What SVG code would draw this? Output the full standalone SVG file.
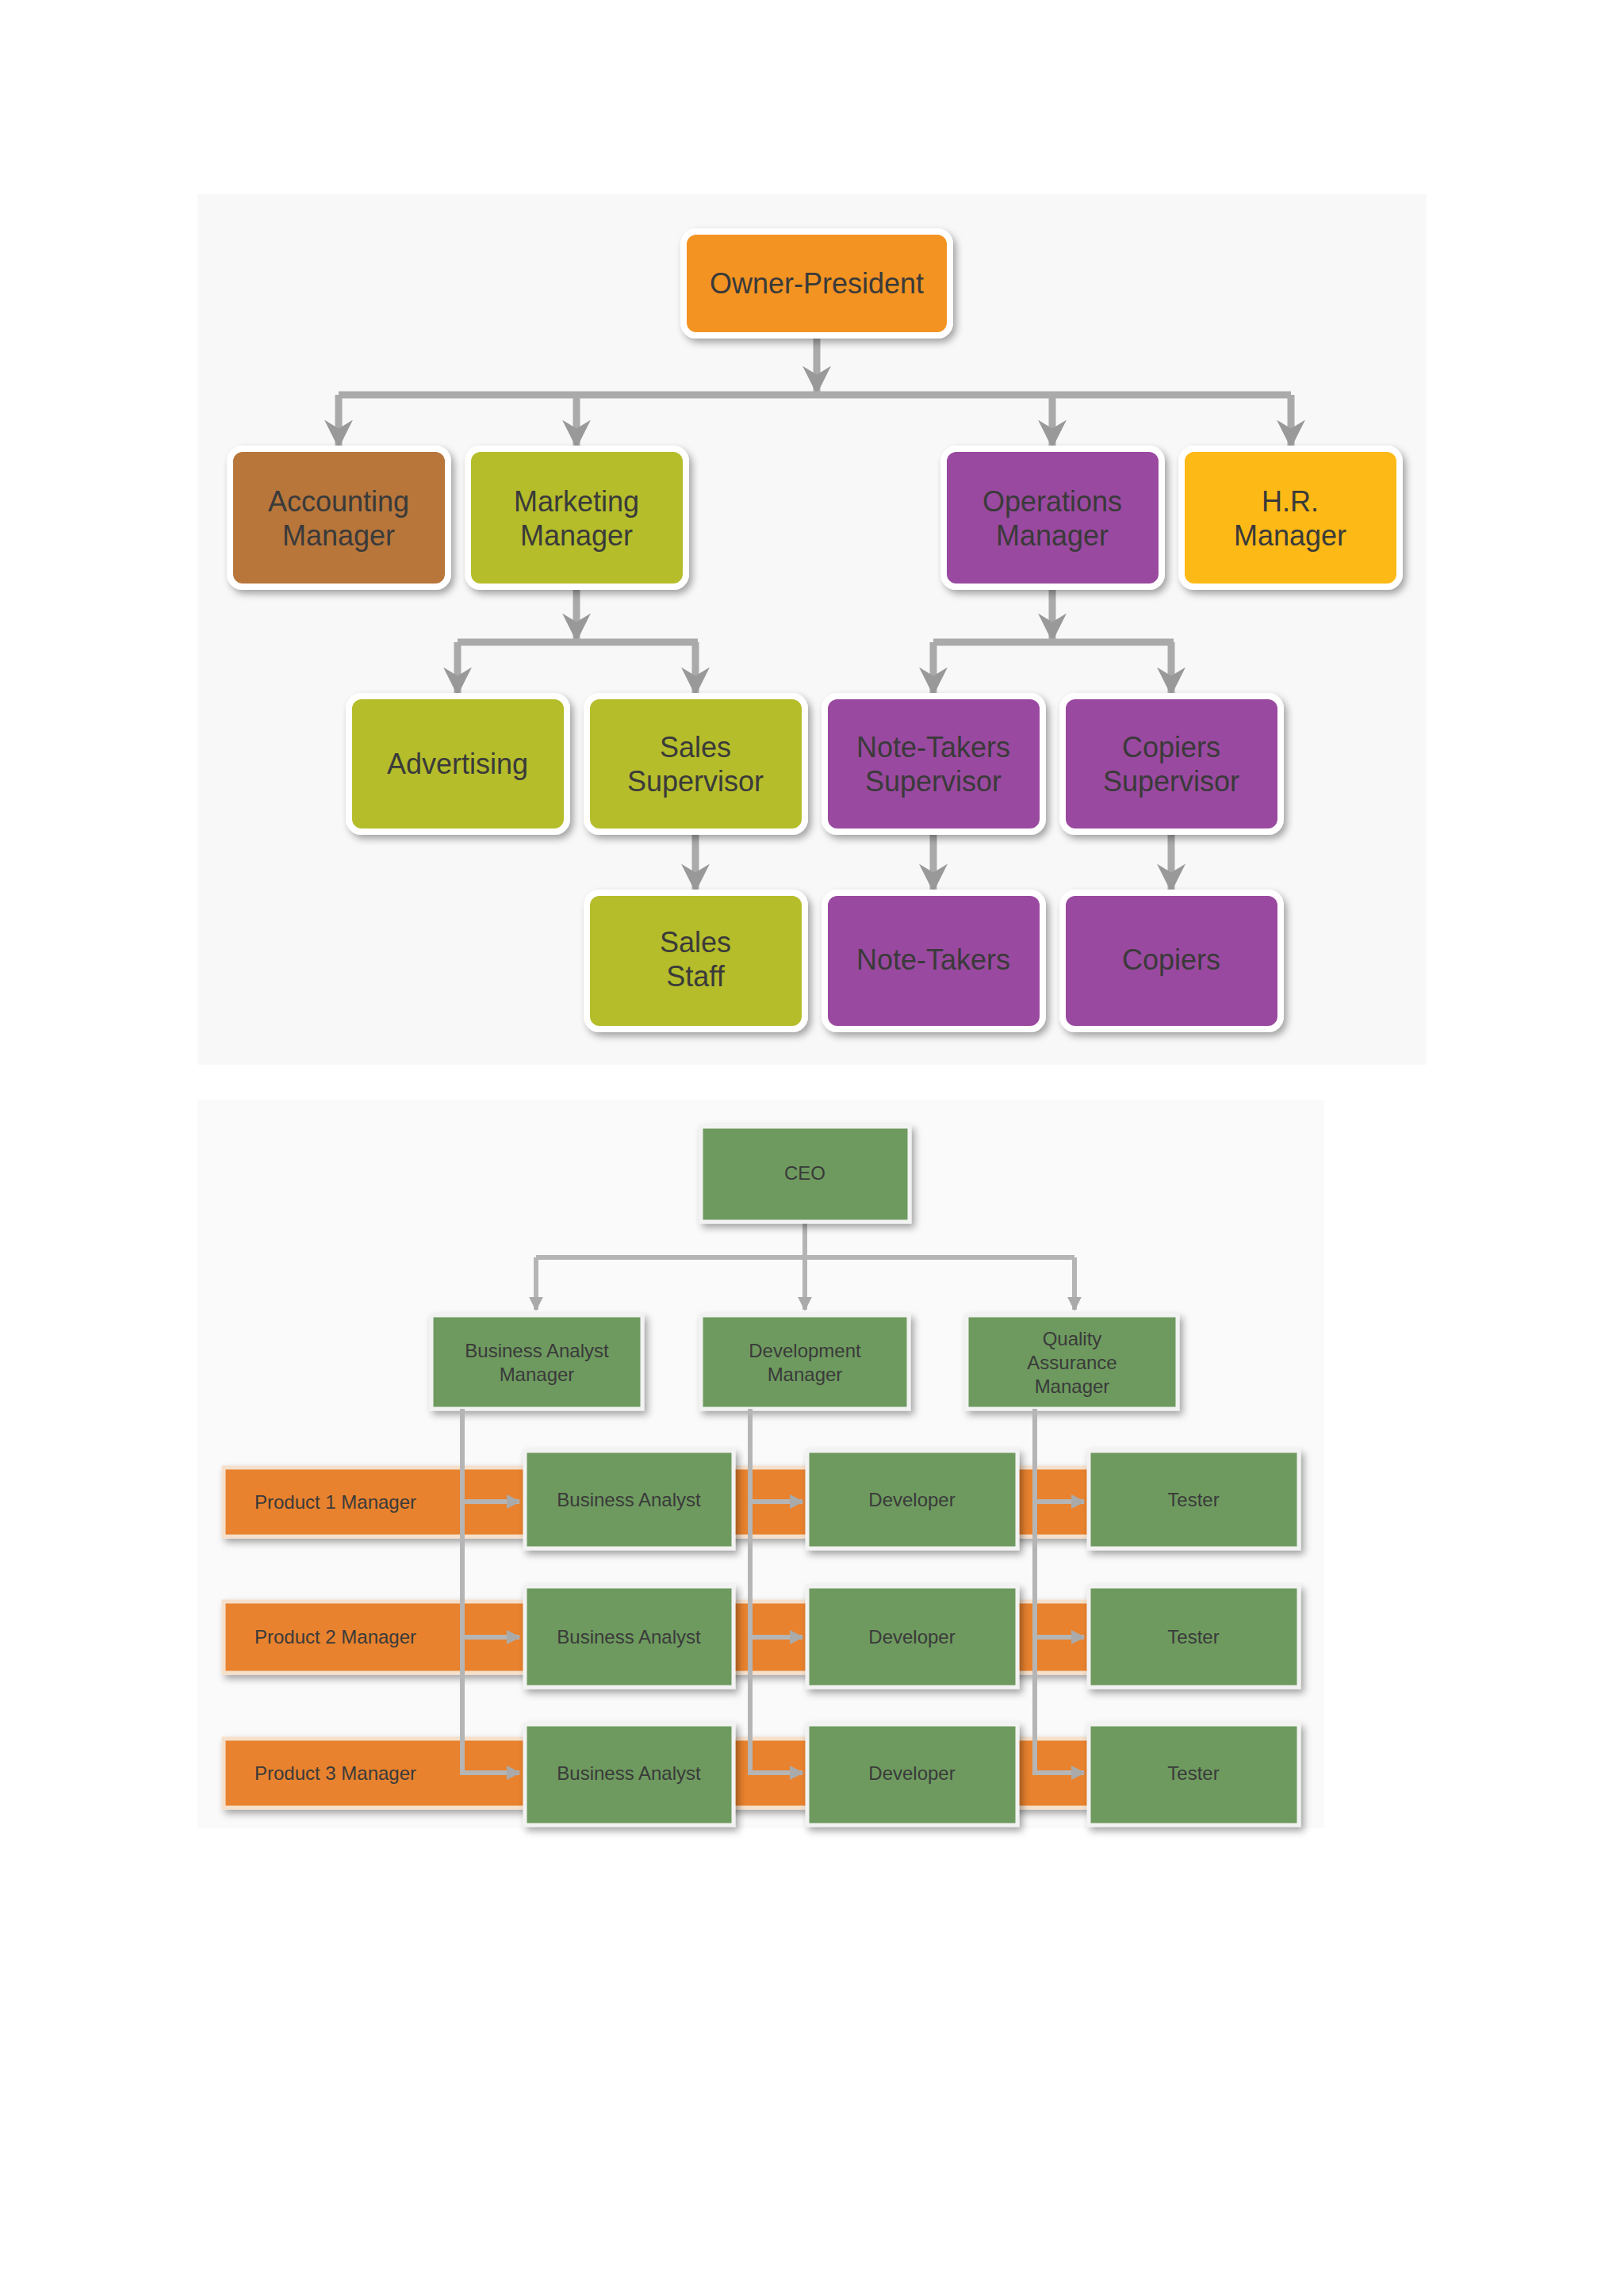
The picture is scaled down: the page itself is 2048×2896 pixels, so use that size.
<svg xmlns="http://www.w3.org/2000/svg" width="2048" height="2896" viewBox="0 0 2048 2896">
<defs>
<filter id="sh" x="-10%" y="-10%" width="130%" height="130%"><feDropShadow dx="4" dy="5" stdDeviation="5" flood-color="#000" flood-opacity="0.35"/></filter>
<marker id="ah" viewBox="0 0 10 10" refX="9" refY="5" markerWidth="4" markerHeight="4" orient="auto"><path d="M0,0 L10,5 L0,10 L3,5 Z" fill="#999"/></marker>
<marker id="sa" viewBox="0 0 10 10" refX="9" refY="5" markerWidth="3" markerHeight="3" orient="auto"><path d="M0,0 L10,5 L0,10 Z" fill="#aaa"/></marker>
</defs>
<style>
.n rect{stroke:#fff;stroke-width:8;filter:url(#sh)}
.t{font-family:"Liberation Sans Narrow","Liberation Sans",Arial,sans-serif;font-size:36px;fill:#3a3a3a;text-anchor:middle}
.g rect{fill:#6e9a5e;stroke:#f2f2f2;stroke-width:5;filter:url(#sh)}
.s{font-family:"Liberation Sans",Arial,sans-serif;font-size:24px;fill:#3a3a3a;text-anchor:middle}
.c{fill:none;stroke:#aaa;stroke-width:9}
.c2{fill:none;stroke:#b5b5b5;stroke-width:6}
.ob rect{fill:#e8822e;stroke:#f5e0cc;stroke-width:5;filter:url(#sh)}
</style>
<rect width="2048" height="2896" fill="#fff"/>
<rect x="249" y="245" width="1550" height="1098" fill="#f8f8f8"/>
<rect x="249" y="1387" width="1421" height="919" fill="#fafafa"/>
<g id="connectors">
<path class="c" d="M1030,423 V494" marker-end="url(#ah)"/>
<path class="c" d="M427,498 H1628"/>
<path class="c" d="M427,498 V562" marker-end="url(#ah)"/>
<path class="c" d="M727,498 V562" marker-end="url(#ah)"/>
<path class="c" d="M1327,498 V562" marker-end="url(#ah)"/>
<path class="c" d="M1628,498 V562" marker-end="url(#ah)"/>
<path class="c" d="M727,740 V806" marker-end="url(#ah)"/>
<path class="c" d="M577,810 H880"/>
<path class="c" d="M577,810 V874" marker-end="url(#ah)"/>
<path class="c" d="M877,810 V874" marker-end="url(#ah)"/>
<path class="c" d="M1327,740 V806" marker-end="url(#ah)"/>
<path class="c" d="M1177,810 H1480"/>
<path class="c" d="M1177,810 V874" marker-end="url(#ah)"/>
<path class="c" d="M1477,810 V874" marker-end="url(#ah)"/>
<path class="c" d="M877,1049 V1122" marker-end="url(#ah)"/>
<path class="c" d="M1177,1049 V1122" marker-end="url(#ah)"/>
<path class="c" d="M1477,1049 V1122" marker-end="url(#ah)"/>
<path class="c2" d="M1015,1541 V1586 M676,1586 H1355"/>
<path class="c2" d="M676,1586 V1652" marker-end="url(#sa)"/>
<path class="c2" d="M1015,1586 V1652" marker-end="url(#sa)"/>
<path class="c2" d="M1355,1586 V1652" marker-end="url(#sa)"/>
</g>
<g id="owner" class="n"><rect x="862" y="292" width="336" height="131" rx="16" fill="#f39320"/><text class="t" x="1030" y="370">Owner-President</text></g>
<g id="accounting" class="n"><rect x="290" y="566" width="275" height="174" rx="16" fill="#b8763a"/><text class="t" x="427" y="645">Accounting</text><text class="t" x="427" y="688">Manager</text></g>
<g id="marketing" class="n"><rect x="590" y="566" width="275" height="174" rx="16" fill="#b5bd2a"/><text class="t" x="727" y="645">Marketing</text><text class="t" x="727" y="688">Manager</text></g>
<g id="operations" class="n"><rect x="1190" y="566" width="275" height="174" rx="16" fill="#9a4aa0"/><text class="t" x="1327" y="645" fill="#555">Operations</text><text class="t" x="1327" y="688">Manager</text></g>
<g id="hr" class="n"><rect x="1490" y="566" width="275" height="174" rx="16" fill="#fdb913"/><text class="t" x="1627" y="645">H.R.</text><text class="t" x="1627" y="688">Manager</text></g>
<g id="advertising" class="n"><rect x="440" y="878" width="275" height="171" rx="16" fill="#b5bd2a"/><text class="t" x="577" y="976">Advertising</text></g>
<g id="salessup" class="n"><rect x="740" y="878" width="275" height="171" rx="16" fill="#b5bd2a"/><text class="t" x="877" y="955">Sales</text><text class="t" x="877" y="998">Supervisor</text></g>
<g id="notesup" class="n"><rect x="1040" y="878" width="275" height="171" rx="16" fill="#9a4aa0"/><text class="t" x="1177" y="955">Note-Takers</text><text class="t" x="1177" y="998">Supervisor</text></g>
<g id="copsup" class="n"><rect x="1340" y="878" width="275" height="171" rx="16" fill="#9a4aa0"/><text class="t" x="1477" y="955">Copiers</text><text class="t" x="1477" y="998">Supervisor</text></g>
<g id="salesstaff" class="n"><rect x="740" y="1126" width="275" height="172" rx="16" fill="#b5bd2a"/><text class="t" x="877" y="1201">Sales</text><text class="t" x="877" y="1244">Staff</text></g>
<g id="notetakers" class="n"><rect x="1040" y="1126" width="275" height="172" rx="16" fill="#9a4aa0"/><text class="t" x="1177" y="1223">Note-Takers</text></g>
<g id="copiers" class="n"><rect x="1340" y="1126" width="275" height="172" rx="16" fill="#9a4aa0"/><text class="t" x="1477" y="1223">Copiers</text></g>
<g id="ceo" class="g"><rect x="884" y="1421" width="263" height="120"/><text class="s" x="1015" y="1488">CEO</text></g>
<g id="bam" class="g"><rect x="544" y="1659" width="266" height="118"/><text class="s" x="677" y="1712">Business Analyst</text><text class="s" x="677" y="1742">Manager</text></g>
<g id="devm" class="g"><rect x="884" y="1659" width="262" height="118"/><text class="s" x="1015" y="1712">Development</text><text class="s" x="1015" y="1742">Manager</text></g>
<g id="qam" class="g"><rect x="1219" y="1659" width="266" height="118"/><text class="s" x="1352" y="1697">Quality</text><text class="s" x="1352" y="1727">Assurance</text><text class="s" x="1352" y="1757">Manager</text></g>
<g id="p1" class="ob"><rect x="282" y="1851" width="1100" height="87"/><text class="s" x="423" y="1903">Product 1 Manager</text></g>
<g id="p2" class="ob"><rect x="282" y="2020" width="1100" height="90"/><text class="s" x="423" y="2073">Product 2 Manager</text></g>
<g id="p3" class="ob"><rect x="282" y="2193" width="1100" height="87"/><text class="s" x="423" y="2245">Product 3 Manager</text></g>
<g id="connectors2">
<path class="c2" d="M583,1777 V2236 H655" marker-end="url(#sa)"/>
<path class="c2" d="M946,1777 V2236 H1012" marker-end="url(#sa)"/>
<path class="c2" d="M1305,1777 V2236 H1367" marker-end="url(#sa)"/>
<path class="c2" d="M583,1894 H655" marker-end="url(#sa)"/>
<path class="c2" d="M583,2065 H655" marker-end="url(#sa)"/>
<path class="c2" d="M946,1894 H1012" marker-end="url(#sa)"/>
<path class="c2" d="M946,2065 H1012" marker-end="url(#sa)"/>
<path class="c2" d="M1305,1894 H1367" marker-end="url(#sa)"/>
<path class="c2" d="M1305,2065 H1367" marker-end="url(#sa)"/>
</g>
<g id="ba1" class="g"><rect x="662" y="1830" width="263" height="123"/><text class="s" x="793" y="1900">Business Analyst</text></g>
<g id="dev1" class="g"><rect x="1018" y="1830" width="265" height="123"/><text class="s" x="1150" y="1900">Developer</text></g>
<g id="t1" class="g"><rect x="1373" y="1830" width="265" height="123"/><text class="s" x="1505" y="1900">Tester</text></g>
<g id="ba2" class="g"><rect x="662" y="2001" width="263" height="127"/><text class="s" x="793" y="2073">Business Analyst</text></g>
<g id="dev2" class="g"><rect x="1018" y="2001" width="265" height="127"/><text class="s" x="1150" y="2073">Developer</text></g>
<g id="t2" class="g"><rect x="1373" y="2001" width="265" height="127"/><text class="s" x="1505" y="2073">Tester</text></g>
<g id="ba3" class="g"><rect x="662" y="2175" width="263" height="127"/><text class="s" x="793" y="2245">Business Analyst</text></g>
<g id="dev3" class="g"><rect x="1018" y="2175" width="265" height="127"/><text class="s" x="1150" y="2245">Developer</text></g>
<g id="t3" class="g"><rect x="1373" y="2175" width="265" height="127"/><text class="s" x="1505" y="2245">Tester</text></g>
</svg>
